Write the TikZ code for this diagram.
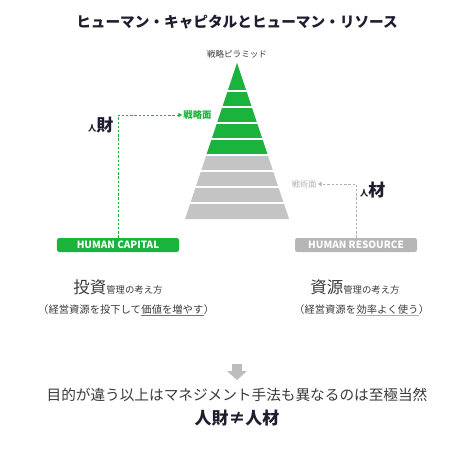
\documentclass[tikz,border=0pt]{standalone}
\usepackage{fontspec}
\setmainfont{Noto Sans CJK JP}
\usepackage{xcolor}
\usetikzlibrary{arrows.meta,positioning}

\definecolor{hcgreen}{HTML}{1AB33C}
\definecolor{pyrgray}{HTML}{C4C4C4}
\definecolor{hrgray}{HTML}{B6B6B6}
\definecolor{tactgray}{HTML}{B0B0B0}
\definecolor{titleink}{HTML}{1E1E30}
\definecolor{textink}{HTML}{3A3A3A}
\definecolor{lineblue}{HTML}{3C7DD9}
\definecolor{arrowgray}{HTML}{BDBDBD}

\tikzset{
  tag/.style={rounded corners=2pt, minimum width=3.66cm, minimum height=0.42cm, inner sep=0pt, text=white, font=\bfseries\fontsize{8.5}{9}\selectfont},
  plain/.style={inner sep=0pt},
  small/.style={inner sep=0pt, text=textink, font=\fontsize{8.8}{9}\selectfont},
  hcdash/.style={hcgreen, line width=0.8pt, dash pattern=on 2pt off 1.6pt, -{Triangle[length=3pt,width=3.5pt]}},
  hrdash/.style={tactgray, line width=0.8pt, dash pattern=on 2pt off 1.6pt, -{Triangle[length=3pt,width=3.5pt]}}
}

\begin{document}
\begin{tikzpicture}[x=0.03cm,y=-0.03cm]
\useasboundingbox (0,0) rectangle (474,474);

\node (title) at (237,22)[font=\bfseries\fontsize{12.5}{13}\selectfont, text=titleink]{ヒューマン・キャピタルとヒューマン・リソース};

% pyramid
\fill[pyrgray] (237,63) -- (289,219) -- (185,219) -- cycle;
\fill[hcgreen] (237,63) -- (267.67,155) -- (206.33,155) -- cycle;
\foreach \y in {91,107,...,203}{
  \pgfmathsetmacro\w{(\y-63)/3+2}
  \draw[white,line width=1.4pt] (237-\w,\y) -- (237+\w,\y);
}
\node (pyr) at (237,54)[font=\fontsize{7.3}{8}\selectfont, text=textink]{戦略ピラミッド};

% human capital
\node (hc) at (118,245)[tag, fill=hcgreen]{HUMAN CAPITAL};
\node (hcword) at (113.5,131)[anchor=base east, plain, text=titleink, font=\bfseries]{{\fontsize{7}{7}\selectfont 人}{\fontsize{14.5}{15}\selectfont 財}};
\node (strat) at (182,115)[anchor=west, inner sep=1pt, text=hcgreen, font=\bfseries\fontsize{8}{9}\selectfont]{戦略面};
\draw[hcdash] (hc.north) |- (strat.west);

% human resource
\node (hr) at (356,245)[tag, fill=hrgray]{HUMAN RESOURCE};
\node (hrword) at (385.5,196)[anchor=base east, plain, text=titleink, font=\bfseries]{{\fontsize{7}{7}\selectfont 人}{\fontsize{14.5}{15}\selectfont 材}};
\node (tact) at (318,184)[anchor=east, inner sep=1pt, text=tactgray, font=\fontsize{7}{8}\selectfont]{戦術面};
\draw[hrdash] (hr.north) |- (tact.east);

% ways of thinking
\node (hcway) at (118,293)[anchor=base, plain, text=textink]{{\fontsize{14}{14}\selectfont 投資}{\fontsize{8}{8}\selectfont 管理の考え方}};
\node (hrway) at (355,293)[anchor=base, plain, text=textink]{{\fontsize{14}{14}\selectfont 資源}{\fontsize{8}{8}\selectfont 管理の考え方}};

\node (hcp1) at (38,313.5)[anchor=base west, small]{（経営資源を投下して};
\node (hcp2) at (hcp1.base east)[anchor=base west, small]{価値を増やす};
\node (hcp3) at (hcp2.base east)[anchor=base west, small]{）};
\draw[lineblue, line width=1pt] ([yshift=-1pt]hcp2.south west) -- ([yshift=-1pt]hcp2.south east);

\node (hrp1) at (294,313.5)[anchor=base west, small]{（経営資源を};
\node (hrp2) at (hrp1.base east)[anchor=base west, small]{効率よく使う};
\node (hrp3) at (hrp2.base east)[anchor=base west, small]{）};
\draw[tactgray, line width=1pt] ([yshift=-1pt]hrp2.south west) -- ([yshift=-1pt]hrp2.south east);

% conclusion
\fill[arrowgray] (232,364) -- (242,364) -- (242,371) -- (247,371) -- (237,380) -- (227,371) -- (232,371) -- cycle;
\node (why) at (237,395)[font=\fontsize{12.5}{13}\selectfont, text=textink]{目的が違う以上はマネジメント手法も異なるのは至極当然};
\node (neq) at (237,418)[font=\bfseries\fontsize{14.5}{15}\selectfont, text=titleink]{人財≠人材};
\end{tikzpicture}
\end{document}
